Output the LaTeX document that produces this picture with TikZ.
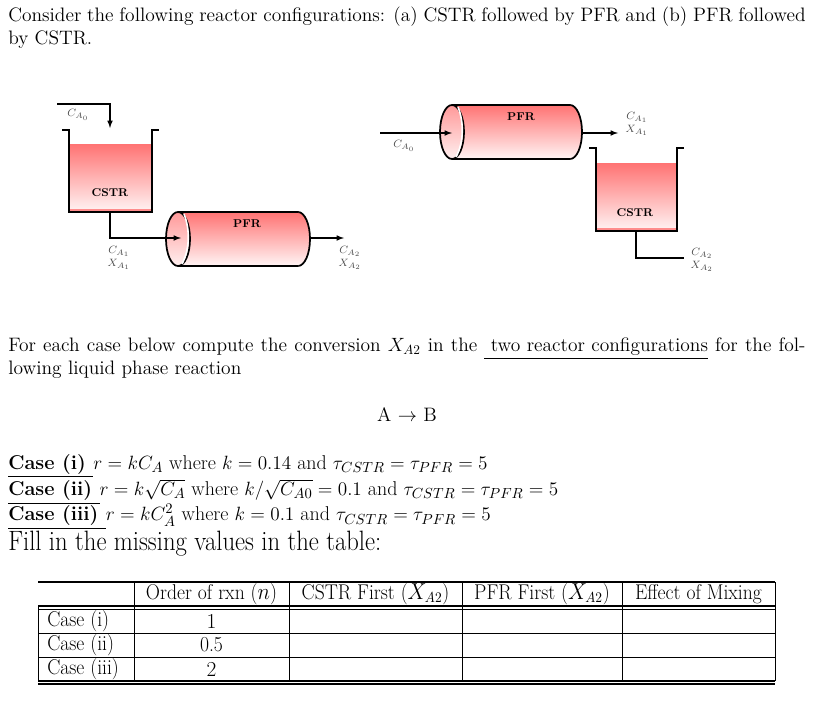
\documentclass[tikz,border=0pt]{standalone}
\usepackage{amsmath}
\begin{document}
\begin{tikzpicture}[x=0.75pt,y=-0.75pt,
  liquid/.style={top color=red!55, bottom color=red!4},
  pipe/.style={line width=0.9pt},
  arr/.style={pipe,-latex},
  wall/.style={line width=1.3pt},
  lab/.style={font=\fontsize{8}{9}\selectfont, text=black!70, inner sep=0pt},
  body/.style={font=\fontsize{14.6}{16.6}\selectfont, inner sep=0pt, anchor=west},
  casel/.style={font=\fontsize{15}{17}\selectfont, inner sep=0pt, anchor=west},
  cell/.style={font=\fontsize{16}{19}\selectfont, inner sep=0pt}]
\useasboundingbox (0,0) rectangle (814,703);
\newcommand\pfrcyl[3]{%
  \draw[wall, liquid] (#2,#3) ellipse [x radius=12, y radius=27];
  \fill[liquid] (#1,#3-27) rectangle (#2,#3+27);
  \draw[wall] (#1,#3-27) -- (#2,#3-27) (#1,#3+27) -- (#2,#3+27);
  \draw[wall, top color=red!40, bottom color=red!6] (#1,#3) ellipse [x radius=12, y radius=27];
  \draw[white, line width=1.2pt] (#1+6,#3-25) .. controls (#1+12,#3-10) and (#1+12,#3+10) .. (#1+4,#3+25);
}
\newcommand\tank[5]{% xl xr ytop ybot yliq
  \fill[liquid] (#1,#5) rectangle (#2,#4);
  \fill[red!45] (#1,#4-3) rectangle (#2,#4);
  \draw[wall] (#1-7,#3) -- (#1,#3) -- (#1,#4) -- (#2,#4) -- (#2,#3) -- (#2+7,#3);
}
% text
\node[body, text width=598pt, align=justify, anchor=north west] (intro) at (8,7) {Consider the following reactor configurations: (a) CSTR followed by PFR and (b) PFR followed by CSTR.};
% (a)
\tank{69}{152}{130}{212}{144}
\node[font=\bfseries\fontsize{8.5}{9}\selectfont] (cstrA) at (110,193) {CSTR};
\coordinate (inA) at (57,104);
\draw[arr] (inA) -- (110,104) -- (110,128);
\node[lab] (ca0A) at (78,115) {$C_{A_0}$};
\pfrcyl{178}{298}{239}
\node[font=\bfseries\fontsize{8.5}{9}\selectfont] (pfrA) at (247,224) {PFR};
\draw[arr] (110,213) -- (110,238) -- (181,238);
\node[lab, align=center] (ca1A) at (119,258) {$C_{A_1}$\\[1pt]$X_{A_1}$};
\draw[arr] (310,238) -- (344,238);
\node[lab, align=center] (ca2A) at (350,258) {$C_{A_2}$\\[1pt]$X_{A_2}$};
% (b)
\pfrcyl{452}{570}{132}
\node[font=\bfseries\fontsize{8.5}{9}\selectfont] (pfrB) at (521,117) {PFR};
\draw[arr] (380,133) -- (452,133);
\node[lab] (ca0B) at (404,146) {$C_{A_0}$};
\draw[arr] (582,133) -- (618,133);
\node[lab, align=center] (ca1B) at (637,124) {$C_{A_1}$\\[1pt]$X_{A_1}$};
\tank{596}{677}{148}{231}{163}
\node[font=\bfseries\fontsize{8.5}{9}\selectfont] (cstrB) at (635,213) {CSTR};
\draw[pipe] (636,232) -- (636,258) -- (684,258);
\node[lab, align=center] (ca2B) at (702,260) {$C_{A_2}$\\[1pt]$X_{A_2}$};
% paragraph
\node[body, text width=598pt, align=justify, anchor=north west] (para) at (8,338) {For each case below compute the conversion $X_{A2}$ in the \underline{\ two reactor configurations} for the fol-\hspace{0pt plus 1fil}\linebreak lowing liquid phase reaction};
\node[body, anchor=center] (rxn) at (407,415) {A $\rightarrow$ B};
\node[casel] (c1) at (8,466) {\underline{\bfseries Case (i) }$r=kC_A$ where $k=0.14$ and $\tau_{CSTR}=\tau_{PFR}=5$};
\node[casel] (c2) at (8,492) {\underline{\bfseries Case (ii) }$r=k\sqrt{C_A}$ where $k/\sqrt{C_{A0}}=0.1$ and $\tau_{CSTR}=\tau_{PFR}=5$};
\node[casel] (c3) at (8,517) {\underline{\bfseries Case (iii) }$r=kC_A^2$ where $k=0.1$ and $\tau_{CSTR}=\tau_{PFR}=5$};
\node[body] (fill) at (8,544) {\fontsize{21}{24}\selectfont\scalebox{0.88}[1]{Fill in the missing values in the table:}};
% table
\draw[line width=0.8pt] (38,582) -- (775,582);
\draw[line width=0.8pt] (38,606) -- (775,606) (38,609.5) -- (775,609.5);
\draw (38,633) -- (775,633) (38,657) -- (775,657);
\draw[line width=0.8pt] (38,681) -- (775,681) (38,684) -- (775,684);
\draw (38,606) -- (38,681);
\foreach \x in {134,289,462,622,775} \draw (\x,582) -- (\x,681);
\node[cell] (h1) at (211.5,594) {\scalebox{0.92}[1]{Order of rxn ($n$)}};
\node[cell] (h2) at (375.5,594) {\scalebox{0.92}[1]{CSTR First ($X_{A2}$)}};
\node[cell] (h3) at (542,594) {\scalebox{0.92}[1]{PFR First ($X_{A2}$)}};
\node[cell] (h4) at (698.5,594) {\scalebox{0.92}[1]{Effect of Mixing}};
\node[cell, anchor=west] (r1) at (47,621) {\scalebox{0.92}[1]{Case (i)}};
\node[cell, anchor=west] (r2) at (47,645) {\scalebox{0.92}[1]{Case (ii)}};
\node[cell, anchor=west] (r3) at (47,669) {\scalebox{0.92}[1]{Case (iii)}};
\node[cell] (n1) at (211.5,621) {1};
\node[cell] (n2) at (211.5,645) {\scalebox{0.92}[1]{0.5}};
\node[cell] (n3) at (211.5,669) {2};
\end{tikzpicture}
\end{document}
